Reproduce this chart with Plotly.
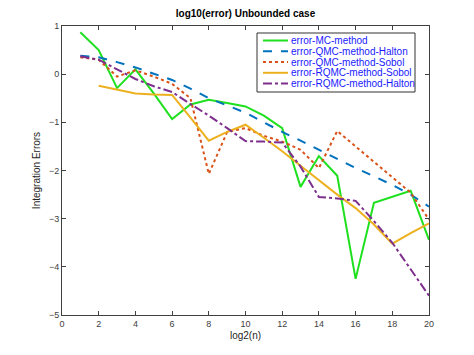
import plotly.graph_objects as go

x_all = list(range(1, 21))
x_rqmc_sobol = list(range(2, 21))

mc = [0.87, 0.50, -0.29, 0.10, -0.40, -0.93, -0.63, -0.53, -0.60, -0.67,
      -0.86, -1.12, -2.34, -1.70, -2.11, -4.25, -2.67, -2.55, -2.42, -3.44]
qmc_halton = [0.38, 0.35, 0.25, 0.14, 0.01, -0.12, -0.30, -0.50, -0.65, -0.80,
              -1.00, -1.20, -1.38, -1.57, -1.76, -1.95, -2.12, -2.30, -2.50, -2.75]
qmc_sobol = [0.35, 0.30, -0.05, 0.08, -0.05, -0.20, -0.50, -2.07, -1.20, -1.12,
             -1.28, -1.40, -1.57, -1.95, -1.18, -1.50, -1.82, -2.14, -2.46, -3.02]
rqmc_sobol = [-0.24, -0.32, -0.40, -0.42, -0.43, -0.90, -1.38, -1.20, -1.05,
              -1.32, -1.60, -1.90, -2.20, -2.50, -2.78, -3.12, -3.52, -3.30, -3.10]
rqmc_halton = [0.37, 0.30, 0.10, -0.10, -0.25, -0.37, -0.62, -0.86, -1.12, -1.39,
               -1.40, -1.42, -1.92, -2.55, -2.58, -2.63, -3.05, -3.50, -4.05, -4.60]

names = ["error-MC-method", "error-QMC-method-Halton", "error-QMC-method-Sobol",
         "error-RQMC-method-Sobol", "error-RQMC-method-Halton"]
colors = ["#1fe01f", "#0072BD", "#D95319", "#EDB120", "#7E2F8E"]
dashes = ["solid", "dash", "dot", "solid", "dashdot"]
xs = [x_all, x_all, x_all, x_rqmc_sobol, x_all]
ys = [mc, qmc_halton, qmc_sobol, rqmc_sobol, rqmc_halton]

fig = go.Figure()
for n, c, d, xv, yv in zip(names, colors, dashes, xs, ys):
    fig.add_trace(go.Scatter(x=xv, y=yv, mode="lines", name=n, showlegend=False,
                             line=dict(color=c, dash=d, width=2)))

# plot area in pixels
L, R, T, B = 62, 429, 26, 315
W, H = R - L, B - T
def px(xp):
    return (xp - L) / W
def py(yp):
    return (B - yp) / H

shapes = []
annotations = []
# custom legend box
shapes.append(dict(type="rect", xref="paper", yref="paper",
                   x0=px(257), x1=px(415), y0=py(92), y1=py(33),
                   line=dict(color="#333333", width=1), fillcolor="white", layer="above"))
rows = [40.5, 51.3, 62, 72.8, 83.5]
for n, c, d, r in zip(names, colors, dashes, rows):
    shapes.append(dict(type="line", xref="paper", yref="paper",
                       x0=px(263), x1=px(288), y0=py(r), y1=py(r),
                       line=dict(color=c, dash=d, width=2), layer="above"))
    annotations.append(dict(text=n, xref="paper", yref="paper", x=px(289), y=py(r),
                            xanchor="left", yanchor="middle", showarrow=False,
                            font=dict(family="Liberation Sans, Arial", size=10, color="#1a1aff")))

fig.update_layout(
    width=474, height=355,
    margin=dict(l=L, r=474 - R, t=T, b=355 - B),
    paper_bgcolor="white", plot_bgcolor="white",
    title=dict(text="<b>log10(error) Unbounded case</b>", x=(L + W / 2) / 474, xanchor="center",
               y=1 - 13 / 355, yanchor="middle",
               font=dict(family="Liberation Sans, Arial", size=10, color="#000000")),
    shapes=shapes, annotations=annotations,
    font=dict(family="Liberation Sans, Arial", size=9, color="#333333"),
)
axis_common = dict(showline=True, linecolor="#404040", linewidth=1, mirror="ticks",
                   ticks="inside", ticklen=4, tickcolor="#404040", showgrid=False,
                   zeroline=False, tickfont=dict(size=9, color="#404040"))
fig.update_xaxes(range=[0, 20], tickvals=list(range(0, 21, 2)),
                 title=dict(text="log2(n)", standoff=4, font=dict(size=10, color="#262626")),
                 **axis_common)
fig.update_yaxes(range=[-5, 1], tickvals=list(range(-5, 2)),
                 title=dict(text="Integration Errors", standoff=6, font=dict(size=10, color="#262626")),
                 **axis_common)

fig.write_html("out.html", config={"displayModeBar": False},
               post_script="document.body.style.margin='0';document.body.style.padding='0';")
